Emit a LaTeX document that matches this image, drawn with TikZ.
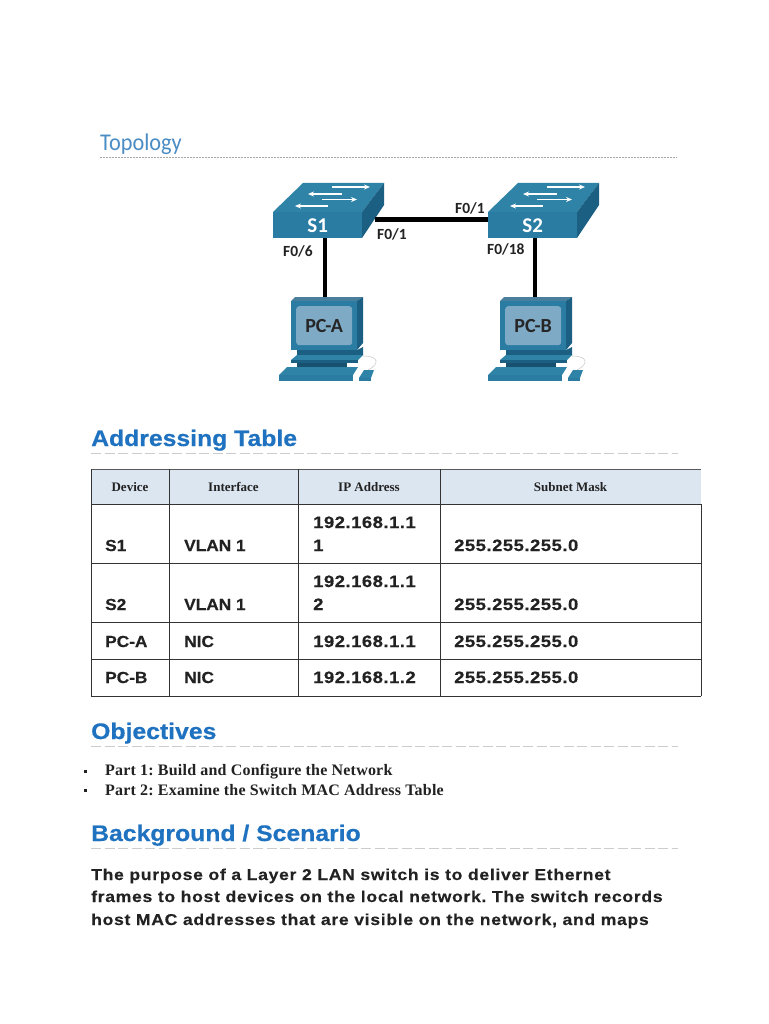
\documentclass[tikz,border=0pt]{standalone}
\usepackage{fontspec}
\setmainfont{Liberation Serif}
\newfontfamily\headfont[FakeStretch=1.10,BoldFeatures={FakeBold=0.5}]{Liberation Sans}
\newfontfamily\cellfont[FakeStretch=1.08,BoldFeatures={FakeBold=0.4}]{Liberation Sans}
\newfontfamily\numfont[FakeStretch=1.12,LetterSpace=3,BoldFeatures={FakeBold=0.4}]{Liberation Sans}
\newfontfamily\bodyfont[FakeStretch=1.12,LetterSpace=4.4,BoldFeatures={FakeBold=0.3}]{Liberation Sans}
\newfontfamily\partfont[LetterSpace=1.3]{Liberation Serif}
\newfontfamily\iconfont{Carlito}
\newfontfamily\topofont[FakeStretch=0.93]{Carlito}
\usetikzlibrary{arrows.meta}
\definecolor{headblue}{HTML}{1F72BF}
\definecolor{topoblue}{HTML}{4A8CC4}
\definecolor{iconfront}{HTML}{2A7CA3}
\definecolor{icontop}{HTML}{2F83A6}
\definecolor{iconside}{HTML}{1B5F83}
\definecolor{iconscreen}{HTML}{7FAAC6}
\definecolor{headerfill}{HTML}{DCE6F1}
\definecolor{textdark}{HTML}{222222}
\tikzset{
  heading/.style = {anchor=base west, inner sep=0pt, text=headblue, font=\frenchspacing\headfont\bfseries\fontsize{22.5}{24}\selectfont},
  bodyline/.style = {anchor=base west, inner sep=0pt, text=textdark, font=\frenchspacing\bodyfont\bfseries\fontsize{15.7}{18}\selectfont},
  cell/.style = {anchor=base west, inner sep=0pt, text=textdark, font=\cellfont\bfseries\fontsize{16}{18}\selectfont},
  numcell/.style = {anchor=base west, inner sep=0pt, text=textdark, font=\numfont\bfseries\fontsize{16.5}{18}\selectfont},
  headcell/.style = {anchor=base, inner sep=0pt, text=textdark, font=\bfseries\fontsize{13}{14}\selectfont},
  partline/.style = {anchor=base west, inner sep=0pt, text=textdark, font=\frenchspacing\partfont\bfseries\fontsize{16}{18}\selectfont},
  portlabel/.style = {inner sep=0pt, text=textdark, font=\iconfont\bfseries\fontsize{15.5}{16}\selectfont},
  link/.style = {line width=4.3pt, black},
  dashrule/.style = {line width=0.8pt, black!20, dash pattern=on 10pt off 3.5pt},
  gridline/.style = {line width=1pt, black!80},
  swarrow/.style = {white, line width=1.6pt, -{Stealth[length=6pt,width=5pt]}},
}
% switch: #1 node name, #2 left x of front face, #3 label
\newcommand{\switchicon}[3]{
  \fill[icontop] (#2,212) -- (#2+30,183) -- (#2+111,183) -- (#2+89,212) -- cycle;
  \fill[iconside] (#2+89,212) -- (#2+111,183) -- (#2+111,205) -- (#2+89,238) -- cycle;
  \node (#1) [minimum width=89pt, minimum height=26pt, inner sep=0pt, fill=iconfront, text=white,
    font=\iconfont\bfseries\fontsize{21}{22}\selectfont, anchor=north west] at (#2,212) {#3};
  \draw[swarrow] (#2+59,187) -- (#2+97,187);
  \draw[swarrow] (#2+69,194) -- (#2+35,194);
  \draw[swarrow] (#2+49,199.5) -- (#2+84,199.5);
  \draw[swarrow] (#2+55,206) -- (#2+22,206);
}
% pc: #1 node name, #2 left x of monitor, #3 label
\newcommand{\pcicon}[3]{
  \fill[iconside!80!white] (#2,301) -- (#2+4,297) -- (#2+72,297) -- (#2+66,301) -- cycle;
  \fill[iconside] (#2+66,301) -- (#2+72,297) -- (#2+72,343) -- (#2+66,350) -- cycle;
  \fill[iconfront] (#2,301) rectangle (#2+66,350);
  \node (#1) [minimum width=56pt, minimum height=39pt, inner sep=0pt, rounded corners=3pt, fill=iconscreen,
    text=black!85, font=\iconfont\bfseries\fontsize{20}{22}\selectfont, anchor=north west] at (#2+5,306) {#3};
  \fill[iconside] (#2+6,350) -- (#2+66,350) -- (#2+72,347) -- (#2+72,355) -- (#2+6,355) -- cycle;
  \fill[icontop] (#2,360) -- (#2+6,355) -- (#2+72,355) -- (#2+67,360) -- cycle;
  \fill[iconside] (#2,360) rectangle (#2+67,363);
  \fill[iconside!85!black] (#2+6,363) rectangle (#2+56,367);
  \fill[icontop] (#2-12,375) -- (#2-4,367) -- (#2+67,367) -- (#2+62,375) -- cycle;
  \fill[iconfront] (#2-12,375) rectangle (#2+62,381);
  \draw[black!20, line width=0.6pt] (#2+77,370) .. controls (#2+89,364) and (#2+88,356) .. (#2+72,356);
  \fill[icontop] (#2+68,378) -- (#2+73,370) -- (#2+83,370) -- (#2+80,378) -- cycle;
  \fill[iconfront] (#2+68,378) rectangle (#2+80,381);
}
\begin{document}
\begin{tikzpicture}[x=1pt, y=-1pt]
  \useasboundingbox (0,0) rectangle (768,1024);
  \fill[white] (0,0) rectangle (768,1024);

  % topology
  \node (topotitle) [anchor=base west, inner sep=0pt, text=topoblue, font=\topofont\fontsize{24}{26}\selectfont] at (100,151) {Topology};
  \draw[black!35, line width=0.6pt, dash pattern=on 1.5pt off 1.5pt] (100,157) -- (677,157);

  \switchicon{sa}{273}{S1}
  \switchicon{sb}{488}{S2}
  \pcicon{pca}{291}{PC-A}
  \pcicon{pcb}{500}{PC-B}

  \coordinate (saport) at (375,219.5);
  \coordinate (satail) at (325,238);
  \coordinate (pcahead) at (325,297);
  \coordinate (sbtail) at (535,238);
  \coordinate (pcbhead) at (535,297);
  \draw[link] (saport) -- (sb.west |- saport);
  \draw[link] (satail) -- (pcahead);
  \draw[link] (sbtail) -- (pcbhead);

  \node (lblaone) [portlabel, anchor=base west] at (377,240) {F0/1};
  \node (lblasix) [portlabel, anchor=base west] at (283,256) {F0/6};
  \node (lblbone) [portlabel, anchor=base west] at (455,214) {F0/1};
  \node (lblbeig) [portlabel, anchor=base west] at (487,254) {F0/18};

  % addressing table
  \node (addrtitle) [heading] at (91,446) {Addressing Table};
  \draw[dashrule] (91,453) -- (678,453);
  \fill[headerfill] (91,469) rectangle (701,504);
  \foreach \yy in {504,563,622,659,696}
    \draw[gridline] (91,\yy) -- (701,\yy);
  \draw[gridline, black!65] (91,469) -- (701,469);
  \foreach \xx in {91,169,298,440}
    \draw[gridline] (\xx,469) -- (\xx,696);
  \draw[gridline] (701,504) -- (701,696);

  \node (hdev) [headcell] at (130,491) {Device};
  \node (hint) [headcell] at (233.5,491) {Interface};
  \node (hip) [headcell] at (369,491) {IP Address};
  \node (hmask) [headcell] at (570.5,491) {Subnet Mask};

  \node (rowad) [cell] at (105,551) {S1};
  \node (rowai) [cell] at (184,551) {VLAN 1};
  \node (rowaw) [numcell] at (313,528) {192.168.1.1};
  \node (rowax) [numcell] at (313,551) {1};
  \node (rowam) [numcell] at (454,551) {255.255.255.0};

  \node (rowbd) [cell] at (105,610) {S2};
  \node (rowbi) [cell] at (184,610) {VLAN 1};
  \node (rowbw) [numcell] at (313,587) {192.168.1.1};
  \node (rowbx) [numcell] at (313,610) {2};
  \node (rowbm) [numcell] at (454,610) {255.255.255.0};

  \node (rowcd) [cell] at (105,647) {PC-A};
  \node (rowci) [cell] at (184,647) {NIC};
  \node (rowcw) [numcell] at (313,647) {192.168.1.1};
  \node (rowcm) [numcell] at (454,647) {255.255.255.0};

  \node (rowdd) [cell] at (105,683) {PC-B};
  \node (rowdi) [cell] at (184,683) {NIC};
  \node (rowdw) [numcell] at (313,683) {192.168.1.2};
  \node (rowdm) [numcell] at (454,683) {255.255.255.0};

  % objectives
  \node (objtitle) [heading] at (91,739) {Objectives};
  \draw[dashrule] (91,746) -- (678,746);
  \fill[textdark] (84,769.5) rectangle (87,772.5);
  \fill[textdark] (84,788.5) rectangle (87,791.5);
  \node (partone) [partline] at (105,775) {Part 1: Build and Configure the Network};
  \node (parttwo) [partline] at (105,795) {Part 2: Examine the Switch MAC Address Table};

  % background
  \node (bgtitle) [heading] at (91,841) {Background / Scenario};
  \draw[dashrule] (91,848) -- (678,848);
  \node (bgone) [bodyline] at (91,880) {The purpose of a Layer 2 LAN switch is to deliver Ethernet};
  \node (bgtwo) [bodyline] at (91,902) {frames to host devices on the local network. The switch records};
  \node (bgthree) [bodyline] at (91,925) {host MAC addresses that are visible on the network, and maps};
\end{tikzpicture}
\end{document}
